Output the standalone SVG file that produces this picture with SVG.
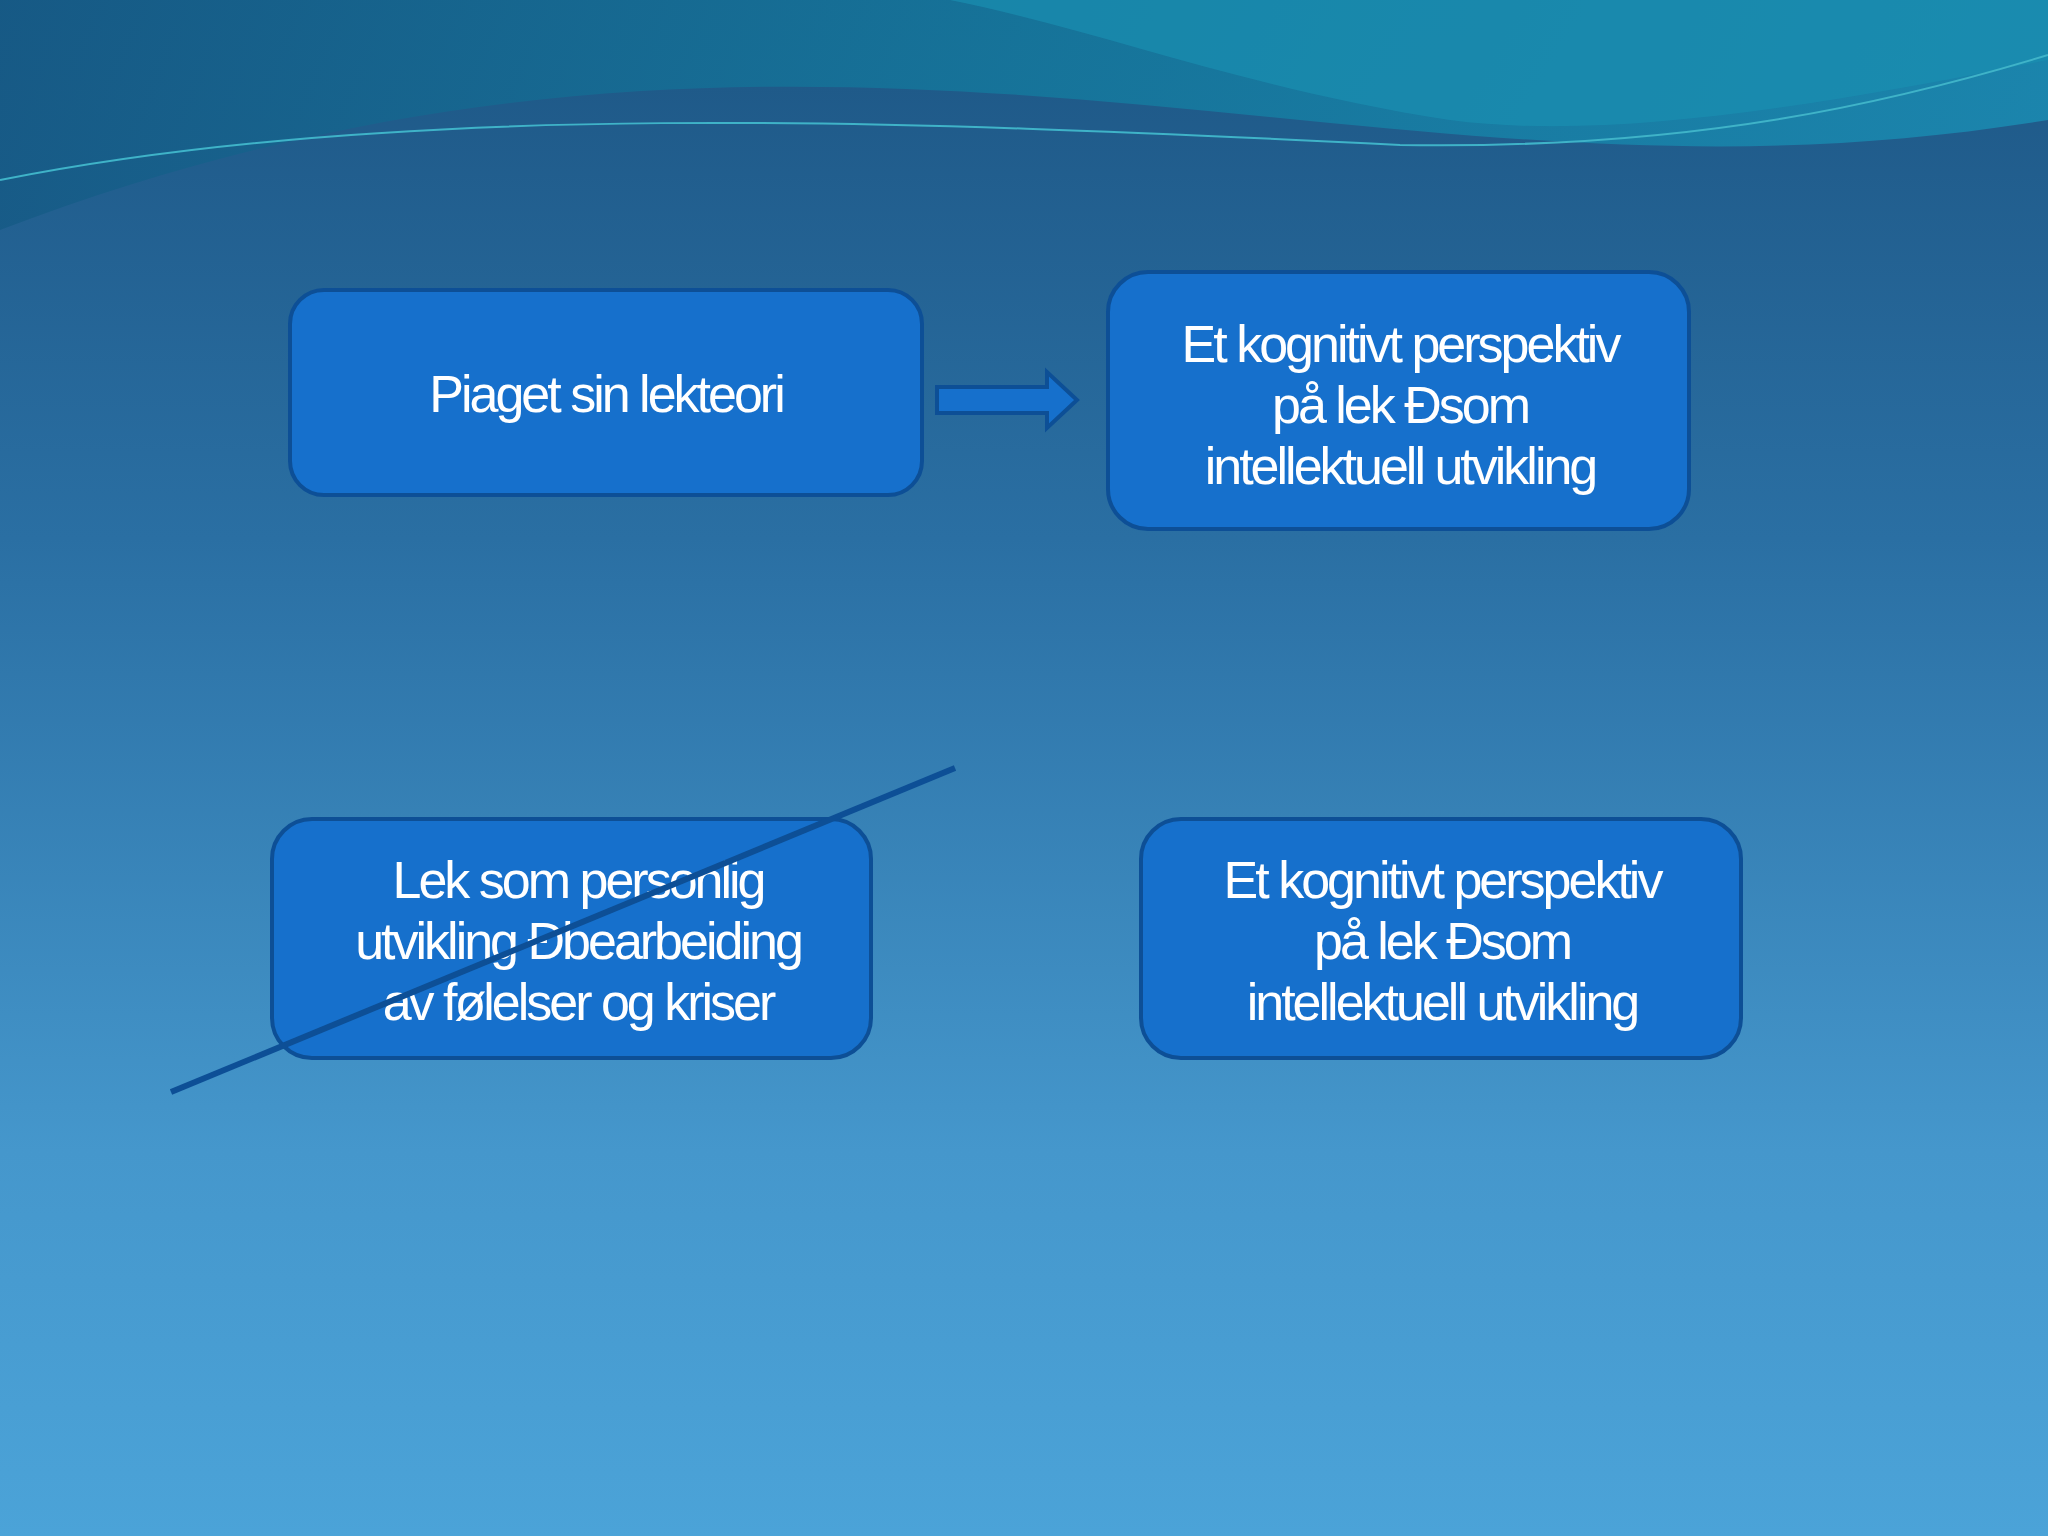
<svg xmlns="http://www.w3.org/2000/svg" width="2048" height="1536" viewBox="0 0 2048 1536">
<defs>
<linearGradient id="bg" x1="0" y1="0" x2="0" y2="1">
<stop offset="0" stop-color="#1d5684"/>
<stop offset="0.35" stop-color="#2a6fa3"/>
<stop offset="0.75" stop-color="#4597cc"/>
<stop offset="1" stop-color="#4ba3d8"/>
</linearGradient>
<linearGradient id="wave" x1="0" y1="0" x2="1" y2="0">
<stop offset="0" stop-color="#155a85"/>
<stop offset="0.5" stop-color="#147a9e"/>
<stop offset="1" stop-color="#1a8fb5"/>
</linearGradient>
<style>
.box{fill:#1670cc;stroke:#0d4f96;stroke-width:4}
.t{font-family:"Liberation Sans",Arial,sans-serif;font-size:52px;fill:#fff;text-anchor:middle;letter-spacing:-3px}
</style>
</defs>
<rect width="2048" height="1536" fill="url(#bg)"/>
<path d="M0 0 H2048 V120 C1800 160 1600 150 1300 120 C900 80 500 40 0 230 Z" fill="url(#wave)" opacity="0.8"/>
<path d="M950 0 H2048 V60 C1800 110 1600 140 1450 120 C1250 90 1100 30 950 0 Z" fill="#1a8fb0" opacity="0.7"/>
<path d="M0 180 C400 100 900 120 1400 145 C1700 150 1900 100 2048 55" fill="none" stroke="#3fb3c8" stroke-width="2"/>
<g id="n1"><rect class="box" x="290" y="290" width="632" height="205" rx="34"/>
<text class="t" x="606" y="412">Piaget sin lekteori</text></g>
<g id="n2"><rect class="box" x="1108" y="272" width="581" height="257" rx="40"/>
<text class="t" x="1400" y="362">Et kognitivt perspektiv</text>
<text class="t" x="1400" y="423">på lek Ðsom</text>
<text class="t" x="1400" y="484">intellektuell utvikling</text></g>
<g id="n3"><rect class="box" x="272" y="819" width="599" height="239" rx="40"/>
<text class="t" x="578" y="898">Lek som personlig</text>
<text class="t" x="578" y="959">utvikling Ðbearbeiding</text>
<text class="t" x="578" y="1020">av følelser og kriser</text></g>
<g id="n4"><rect class="box" x="1141" y="819" width="600" height="239" rx="40"/>
<text class="t" x="1442" y="898">Et kognitivt perspektiv</text>
<text class="t" x="1442" y="959">på lek Ðsom</text>
<text class="t" x="1442" y="1020">intellektuell utvikling</text></g>
<g id="connectors">
<path d="M937 387 H1047 V372 L1077 400 L1047 428 V413 H937 Z" fill="#1670cc" stroke="#0d4f96" stroke-width="4"/>
<line x1="171" y1="1092" x2="955" y2="768" stroke="#0d4f96" stroke-width="6"/>
</g>
</svg>
